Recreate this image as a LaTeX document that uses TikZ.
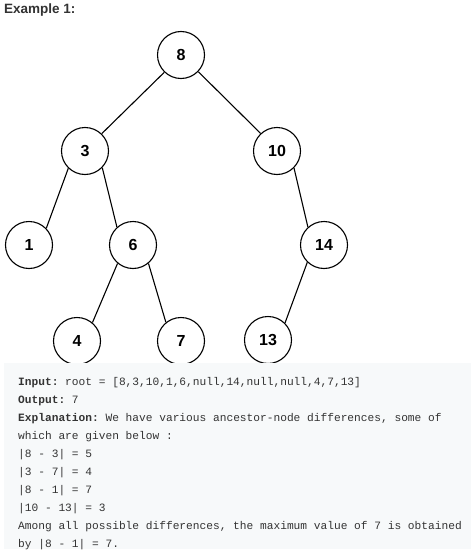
\documentclass[tikz,border=0pt]{standalone}
\usepackage{fontspec}
\setmainfont{Liberation Sans}
\setmonofont{Liberation Mono}
\begin{document}
\begin{tikzpicture}[x=1pt,y=-1pt,
  tn/.style={circle,draw=black,line width=1.1pt,minimum size=47pt,inner sep=0pt,font=\fontsize{16}{16}\selectfont\bfseries},
  edge/.style={line width=1.1pt,draw=black},
  codeline/.style={anchor=base west,inner sep=0pt,font=\fontsize{11.2}{11.2}\ttfamily,text=black!80}]
\useasboundingbox (0,0) rectangle (474,551);
\fill[white] (0,0) rectangle (474,551);
\node[anchor=base west,inner sep=0pt,font=\fontsize{13.5}{13.5}\selectfont\bfseries,text=black!80] (title) at (4,14) {Example 1:};
\node[tn] (n8) at (181,55) {8};
\node[tn] (n3) at (85,151) {3};
\node[tn] (n10) at (277,151) {10};
\node[tn] (n1) at (29,245) {1};
\node[tn] (n6) at (133,245) {6};
\node[tn] (n14) at (324,245) {14};
\node[tn] (n4) at (77,341) {4};
\node[tn] (n7) at (181,341) {7};
\node[tn] (n13) at (268,340) {13};
\draw[edge] (n8.226) -- (n3.46);
\draw[edge] (n8.316) -- (n10.133);
\draw[edge] (n3.226) -- (n1.44);
\draw[edge] (n3.316) -- (n6.132);
\draw[edge] (n10.315) -- (n14.132);
\draw[edge] (n6.230) -- (n4.50);
\draw[edge] (n6.310) -- (n7.129);
\draw[edge] (n14.226) -- (n13.45);
\fill[fill={rgb,255:red,247;green,249;blue,250}] (4,363) rectangle (471,549);
\node[codeline] (l1) at (18,385) {\textbf{Input:} root = [8,3,10,1,6,null,14,null,null,4,7,13]};
\node[codeline] (l2) at (18,403) {\textbf{Output:} 7};
\node[codeline] (l3) at (18,421) {\textbf{Explanation:} We have various ancestor-node differences, some of};
\node[codeline] (l4) at (18,439) {which are given below :};
\node[codeline] (l5) at (18,457) {|8 - 3| = 5};
\node[codeline] (l6) at (18,475) {|3 - 7| = 4};
\node[codeline] (l7) at (18,493) {|8 - 1| = 7};
\node[codeline] (l8) at (18,511) {|10 - 13| = 3};
\node[codeline] (l9) at (18,529) {Among all possible differences, the maximum value of 7 is obtained};
\node[codeline] (l10) at (18,547) {by |8 - 1| = 7.};
\end{tikzpicture}
\end{document}
